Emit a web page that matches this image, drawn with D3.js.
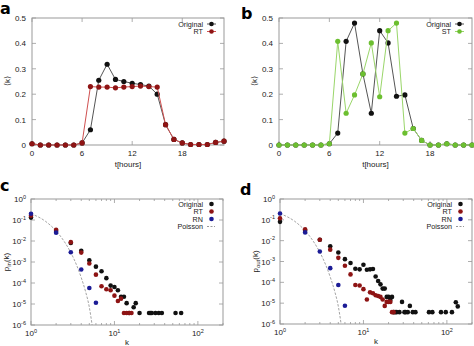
<!DOCTYPE html>
<html>
<head>
<meta charset="utf-8">
<script src="https://cdn.jsdelivr.net/npm/d3@7"></script>
<style>
  body { margin: 0; background: #fff; }
  svg text { font-family: "Liberation Sans", Arial, sans-serif; fill: #222; }
</style>
</head>
<body>
<div class="fig"></div>
<script>
// ---- data ----
var hours = d3.range(0, 24);

// panel a: mean degree per hour
var aOriginal = [0.005, 0, 0, 0, 0, 0, 0.008, 0.06, 0.255, 0.318, 0.258, 0.25, 0.243, 0.238, 0.232, 0.2, 0.08, 0.022, 0.008, 0.002, 0.002, 0.002, 0.01, 0.015];
var aRT       = [0.005, 0, 0, 0, 0, 0, 0.008, 0.23, 0.228, 0.228, 0.225, 0.228, 0.23, 0.232, 0.23, 0.228, 0.08, 0.022, 0.008, 0.002, 0.002, 0.002, 0.01, 0.015];

// panel b
var bOriginal = [0, 0, 0, 0, 0, 0, 0.005, 0.047, 0.408, 0.48, 0.28, 0.125, 0.45, 0.402, 0.192, 0.197, 0.065, 0.018, 0, 0, 0.005, 0, 0, 0];
var bST       = [0, 0, 0, 0, 0, 0, 0.005, 0.408, 0.125, 0.197, 0.28, 0.402, 0.19, 0.45, 0.48, 0.047, 0.065, 0.018, 0, 0, 0.005, 0, 0, 0];

// panel c: in-degree distribution
var cOrigK = [1, 2, 3, 4, 5, 6, 7, 8, 9, 10, 11, 12, 13, 14, 15, 17, 18, 20, 26, 27, 28, 31, 34, 37, 54, 63];
var cOrigP = [0.13, 0.03, 0.008, 0.0034, 0.0012, 6e-4, 3.6e-4, 1.7e-4, 7.5e-5, 6.5e-5, 4.5e-5, 2.2e-5, 2.2e-5, 1.1e-5, 3.7e-6, 7e-6, 1.1e-5, 3.7e-6, 3.7e-6, 3.7e-6, 3.7e-6, 3.7e-6, 3.7e-6, 3.7e-6, 3.7e-6, 3.7e-6];
var cRTK = [1, 2, 3, 4, 5, 6, 7, 8, 9, 10, 11, 12, 13, 14, 15, 16];
var cRTP = [0.16, 0.034, 0.0088, 0.0028, 8.5e-4, 2.5e-4, 7e-5, 5e-5, 4.5e-5, 2.5e-5, 1.4e-5, 1.8e-5, 3.7e-6, 3.7e-6, 3.7e-6, 3.7e-6];
var cRNK = [1, 2, 3, 4, 5, 6];
var cRNP = [0.2, 0.025, 0.0029, 4.4e-4, 5.8e-5, 1.15e-5];

// panel d: out-degree distribution
var dOrigK = [1, 2, 3, 4, 5, 6, 7, 8, 9, 10, 11, 12, 13, 14, 15, 16, 17, 18, 19, 20, 21, 22, 23, 24, 25, 27, 29, 31, 32, 34, 36, 39, 42, 61, 67, 85, 97, 115, 128, 135];
var dOrigP = [0.08, 0.03, 0.011, 0.0054, 0.0027, 0.0013, 8.5e-4, 4.5e-4, 4.2e-4, 7e-4, 4e-4, 4.2e-4, 4.4e-4, 1.9e-4, 1.15e-4, 8e-5, 5e-5, 5e-5, 2e-5, 2e-5, 1.4e-5, 2e-5, 3.7e-6, 3.7e-6, 3.7e-6, 3.7e-6, 1.15e-5, 3.7e-6, 3.7e-6, 3.7e-6, 7.4e-6, 3.7e-6, 3.7e-6, 3.7e-6, 3.7e-6, 3.7e-6, 3.7e-6, 3.7e-6, 1.1e-5, 7e-6];
var dRTK = [1, 2, 3, 4, 5, 6, 7, 8, 9, 10, 11, 12, 13, 14, 15, 16, 17, 18, 19, 20, 21, 22, 23];
var dRTP = [0.12, 0.035, 0.011, 0.0037, 0.0015, 6.3e-4, 2.4e-4, 7.4e-5, 7e-5, 4.7e-5, 1.5e-5, 3.3e-5, 3e-5, 2.4e-5, 2.2e-5, 2e-5, 1.5e-5, 7.4e-6, 1.15e-5, 1.15e-5, 1.15e-5, 3.7e-6, 3.7e-6];
var dRNK = [1, 2, 3, 4, 5, 6];
var dRNP = [0.2, 0.025, 0.003, 4.8e-4, 7.5e-5, 7.5e-6];

// dashed Poisson reference curve (sampled off the figure)
var poissonK = [1, 1.5, 2, 2.5, 3, 3.5, 4, 4.5, 5, 5.4];
var poissonP = [0.2, 0.085, 0.03, 0.0095, 0.0028, 7.5e-4, 1.8e-4, 4e-5, 7e-6, 1e-6];

var hourTicks = [0, 6, 12, 18];
var kTicks = [0, 0.1, 0.2, 0.3, 0.4, 0.5];

var col = {
  black: "#111", blackLine: "#555",
  red: "#8e1414", redLine: "#d05050",
  green: "#6cbf30", greenLine: "#9ad66a",
  blue: "#1c1c96", poisson: "#999"
};

var FS = 8;     // tick / axis font size
var LFS = 7.2;  // legend font size

var svg = d3.select(".fig").append("svg")
  .attr("width", 474).attr("height", 346);

function zip(a, b) { return a.map(function(v, i) { return [v, b[i]]; }); }

// frame + mirrored inside ticks, gnuplot style
function frame(g, x, y, xt, yt, xminor) {
  var x0 = x.range()[0], x1 = x.range()[1], y0 = y.range()[0], y1 = y.range()[1];
  var tg = g.append("g").attr("stroke", "#999").attr("stroke-width", 0.8);
  var tick = function(list, len, isX) {
    list.forEach(function(v) {
      if (isX) {
        var px = x(v);
        tg.append("line").attr("x1", px).attr("x2", px).attr("y1", y0).attr("y2", y0 - len);
        tg.append("line").attr("x1", px).attr("x2", px).attr("y1", y1).attr("y2", y1 + len);
      } else {
        var py = y(v);
        tg.append("line").attr("y1", py).attr("y2", py).attr("x1", x0).attr("x2", x0 + len);
        tg.append("line").attr("y1", py).attr("y2", py).attr("x1", x1).attr("x2", x1 - len);
      }
    });
  };
  tick(xt, 4, true); tick(yt, 4, false);
  tick(xminor || [], 2, true);
  g.append("rect").attr("x", x0).attr("y", y1).attr("width", x1 - x0).attr("height", y0 - y1)
    .attr("fill", "none").attr("stroke", "#999").attr("stroke-width", 1);
}

function legend(g, x, y, items) {
  items.forEach(function(it, i) {
    var yy = y + i * 7.5;
    g.append("text").attr("x", x).attr("y", yy + 2.5).attr("text-anchor", "end")
      .attr("font-size", LFS).text(it.name);
    if (it.dash) {
      g.append("line").attr("x1", x + 4).attr("x2", x + 12).attr("y1", yy).attr("y2", yy)
        .attr("stroke", it.color).attr("stroke-dasharray", "2,1.5");
    } else {
      if (it.line) g.append("line").attr("x1", x + 4).attr("x2", x + 13).attr("y1", yy).attr("y2", yy)
        .attr("stroke", it.line);
      g.append("circle").attr("cx", x + 8.5).attr("cy", yy).attr("r", 2.3).attr("fill", it.color);
    }
  });
}

function panelLabel(txt, x, y) {
  svg.append("text").attr("x", x).attr("y", y).attr("font-size", 16).attr("font-weight", "bold")
    .style("font-family", "'DejaVu Sans', sans-serif").style("fill", "#000").text(txt);
}

// ---- time panels (a, b) ----
function timePanel(left, right, series, leg) {
  var g = svg.append("g");
  var x = d3.scaleLinear().domain([0, 23]).range([left, right]);
  var y = d3.scaleLinear().domain([0, 0.5]).range([145, 18]);
  frame(g, x, y, hourTicks, kTicks);

  hourTicks.forEach(function(t) {
    g.append("text").attr("x", x(t)).attr("y", 156).attr("text-anchor", "middle")
      .attr("font-size", FS).text(t);
  });
  kTicks.forEach(function(t) {
    g.append("text").attr("x", left - 6).attr("y", y(t) + 3).attr("text-anchor", "end")
      .attr("font-size", FS).text(t === 0 ? "0" : d3.format(".1f")(t));
  });
  g.append("text").attr("x", (left + right) / 2).attr("y", 167).attr("text-anchor", "middle")
    .attr("font-size", FS).text("t[hours]");
  g.append("text").attr("transform", "translate(" + (left - 22) + ",81) rotate(-90)")
    .attr("text-anchor", "middle").attr("font-size", FS).text("\u27E8k\u27E9");

  var line = d3.line().x(function(d) { return x(d[0]); }).y(function(d) { return y(d[1]); });
  series.forEach(function(s) {
    var pts = zip(hours, s.values);
    g.append("path").datum(pts).attr("d", line).attr("fill", "none")
      .attr("stroke", s.line).attr("stroke-width", 1);
    g.selectAll(null).data(pts).enter().append("circle")
      .attr("cx", function(d) { return x(d[0]); })
      .attr("cy", function(d) { return y(d[1]); })
      .attr("r", 2.6).attr("fill", s.color);
  });
  legend(g, right - 21, 24, leg);
}

// ---- degree distribution panels (c, d) ----
function supTick(g, xpos, ypos, exp, anchor) {
  var t = g.append("text").attr("x", xpos).attr("y", ypos).attr("text-anchor", anchor).attr("font-size", FS);
  t.append("tspan").text("10");
  t.append("tspan").attr("dy", -3.5).attr("font-size", 5.5).text(exp);
}

function logPanel(left, right, top, bottom, series, ylab) {
  var g = svg.append("g");
  var x = d3.scaleLog().domain([1, 200]).range([left, right]);
  var y = d3.scaleLog().domain([1e-6, 1]).range([bottom, top]);
  var xMajor = [1, 10, 100];
  var yMajor = [1e-6, 1e-5, 1e-4, 1e-3, 1e-2, 1e-1, 1];
  var xMinor = [];
  [1, 10, 100].forEach(function(dec) {
    d3.range(2, 10).forEach(function(m) { if (dec * m <= 200) xMinor.push(dec * m); });
  });
  frame(g, x, y, xMajor, yMajor, xMinor);

  xMajor.forEach(function(t, i) { supTick(g, x(t), bottom + 11, String(i), "middle"); });
  yMajor.forEach(function(t) {
    supTick(g, left - 5, y(t) + 3, String(Math.round(Math.log10(t))), "end");
  });
  g.append("text").attr("x", (left + right) / 2).attr("y", bottom + 20).attr("text-anchor", "middle")
    .attr("font-size", FS).text("k");
  var yl = g.append("text").attr("transform", "translate(" + (left - 22) + "," + ((top + bottom) / 2) + ") rotate(-90)")
    .attr("text-anchor", "middle").attr("font-size", FS);
  yl.append("tspan").text("p");
  yl.append("tspan").attr("dy", 2).attr("font-size", 6).text(ylab);
  yl.append("tspan").attr("dy", -2).text("(k)");

  var clipId = "clip" + left;
  svg.append("clipPath").attr("id", clipId).append("rect")
    .attr("x", left).attr("y", top).attr("width", right - left).attr("height", bottom - top);
  var pl = d3.line().curve(d3.curveMonotoneX)
    .x(function(d) { return x(d[0]); }).y(function(d) { return y(d[1]); });
  g.append("path").datum(zip(poissonK, poissonP)).attr("d", pl).attr("fill", "none")
    .attr("clip-path", "url(#" + clipId + ")")
    .attr("stroke", col.poisson).attr("stroke-width", 0.9).attr("stroke-dasharray", "2.5,1.5");

  series.forEach(function(s) {
    g.selectAll(null).data(zip(s.k, s.p)).enter().append("circle")
      .attr("cx", function(d) { return x(d[0]); })
      .attr("cy", function(d) { return y(d[1]); })
      .attr("r", 2.3).attr("fill", s.color);
  });
  legend(g, right - 20, top + 5, [
    {name: "Original", color: col.black},
    {name: "RT", color: col.red},
    {name: "RN", color: col.blue},
    {name: "Poisson", color: col.poisson, dash: true}
  ]);
}

timePanel(32, 224,
  [{values: aOriginal, color: col.black, line: col.blackLine},
   {values: aRT, color: col.red, line: col.redLine}],
  [{name: "Original", color: col.black, line: col.blackLine},
   {name: "RT", color: col.red, line: col.redLine}]);

timePanel(279, 472,
  [{values: bOriginal, color: col.black, line: col.blackLine},
   {values: bST, color: col.green, line: col.greenLine}],
  [{name: "Original", color: col.black, line: col.blackLine},
   {name: "ST", color: col.green, line: col.greenLine}]);

logPanel(31, 223, 199, 325,
  [{k: cOrigK, p: cOrigP, color: col.black},
   {k: cRTK, p: cRTP, color: col.red},
   {k: cRNK, p: cRNP, color: col.blue}], "in");

logPanel(280, 472, 199, 324,
  [{k: dOrigK, p: dOrigP, color: col.black},
   {k: dRTK, p: dRTP, color: col.red},
   {k: dRNK, p: dRNP, color: col.blue}], "out");

panelLabel("a", 0, 14);
panelLabel("b", 241, 19);
panelLabel("c", 0, 191);
panelLabel("d", 240, 195);
</script>
</body>
</html>
